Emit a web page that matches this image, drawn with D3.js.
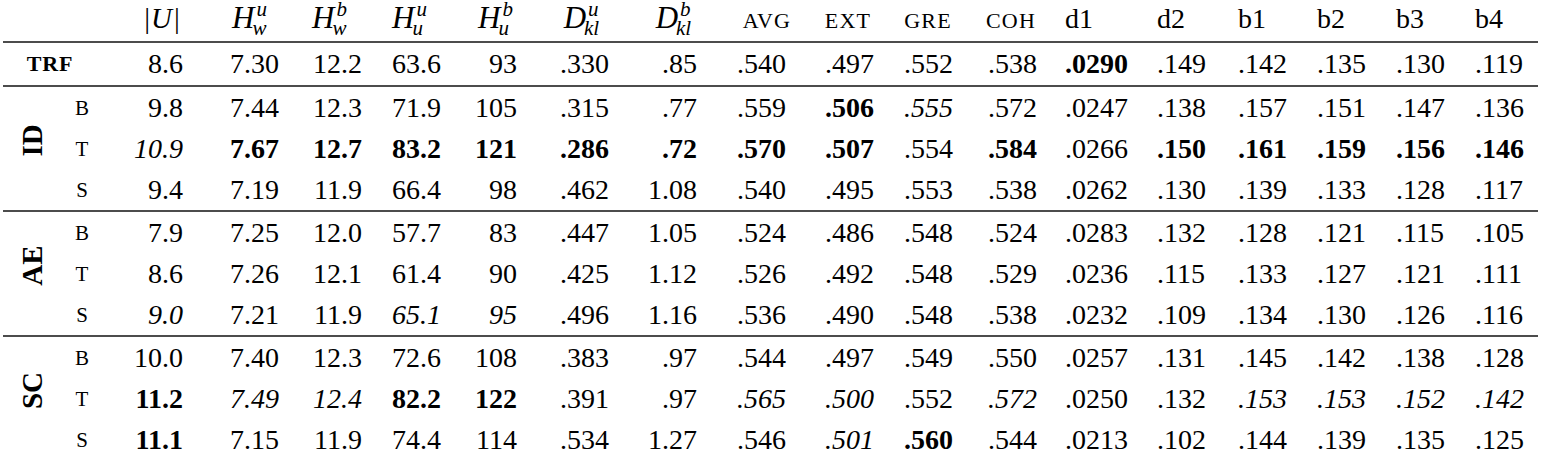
<!DOCTYPE html>
<html>
<head>
<meta charset="utf-8">
<script src="https://cdn.jsdelivr.net/npm/d3@7"></script>
<style>
  html, body { margin: 0; padding: 0; background: #fff; }
  svg { display: block; }
  svg text { font-family: 'Liberation Serif', 'Tinos', 'DejaVu Serif', serif; fill: #000; }
</style>
</head>
<body>
<svg width="1544" height="450"></svg>
<script>
// Column headers: base symbol, superscript, subscript
const headerBase = ['U', 'H', 'H', 'H', 'H', 'D', 'D', 'AVG', 'EXT', 'GRE', 'COH', 'd1', 'd2', 'b1', 'b2', 'b3', 'b4']
const headerSup  = ['', 'u', 'b', 'u', 'b', 'u', 'b', '', '', '', '', '', '', '', '', '', '']
const headerSub  = ['', 'w', 'w', 'u', 'u', 'kl', 'kl', '', '', '', '', '', '', '', '', '', '']
// decimals shown per column (leading zero dropped)
const decimals = [1, 2, 1, 1, 0, 3, 2, 3, 3, 3, 3, 4, 3, 3, 3, 3, 3]

const groups = ['ID', 'AE', 'SC']
const variants = ['B', 'T', 'S']

// values per row; style strings: '.' plain, 'b' bold, 'i' italic
const trf = [8.6, 7.30, 12.2, 63.6, 93, .330, .85, .540, .497, .552, .538, .0290, .149, .142, .135, .130, .119]
const trfStyle = '...........b.....'

const idB = [9.8, 7.44, 12.3, 71.9, 105, .315, .77, .559, .506, .555, .572, .0247, .138, .157, .151, .147, .136]
const idT = [10.9, 7.67, 12.7, 83.2, 121, .286, .72, .570, .507, .554, .584, .0266, .150, .161, .159, .156, .146]
const idS = [9.4, 7.19, 11.9, 66.4, 98, .462, 1.08, .540, .495, .553, .538, .0262, .130, .139, .133, .128, .117]
const idStyle = ['........bi.......', 'ibbbbbbbb.b.bbbbb', '.................']

const aeB = [7.9, 7.25, 12.0, 57.7, 83, .447, 1.05, .524, .486, .548, .524, .0283, .132, .128, .121, .115, .105]
const aeT = [8.6, 7.26, 12.1, 61.4, 90, .425, 1.12, .526, .492, .548, .529, .0236, .115, .133, .127, .121, .111]
const aeS = [9.0, 7.21, 11.9, 65.1, 95, .496, 1.16, .536, .490, .548, .538, .0232, .109, .134, .130, .126, .116]
const aeStyle = ['.................', '.................', 'i..ii............']

const scB = [10.0, 7.40, 12.3, 72.6, 108, .383, .97, .544, .497, .549, .550, .0257, .131, .145, .142, .138, .128]
const scT = [11.2, 7.49, 12.4, 82.2, 122, .391, .97, .565, .500, .552, .572, .0250, .132, .153, .153, .152, .142]
const scS = [11.1, 7.15, 11.9, 74.4, 114, .534, 1.27, .546, .501, .560, .544, .0213, .102, .144, .139, .135, .125]
const scStyle = ['.................', 'biibb..ii.i..iiii', 'b.......ib.......']

const tableValues = { ID: [idB, idT, idS], AE: [aeB, aeT, aeS], SC: [scB, scT, scS] }
const tableStyles = { ID: idStyle, AE: aeStyle, SC: scStyle }

const svg = d3.select('svg')
const FS = 28
const fmt = (v, d) => d3.format('.' + d + 'f')(v).replace(/^0\./, '.')

// layout: first eleven columns right aligned, the last six left aligned
const colIdx = d3.range(headerBase.length)
const x = d3.scaleOrdinal()
  .domain(colIdx)
  .range([183, 279, 362, 441, 517, 609, 697, 786, 874, 953, 1037, 1065, 1157, 1238, 1317, 1396, 1475])
const anchor = i => i < 11 ? 'end' : 'start'
// header centres for the right-aligned columns
const headerX = d3.scaleOrdinal()
  .domain(colIdx.slice(0, 11))
  .range([162, 249, 329, 409, 495, 581, 673, 767, 848, 928, 1011])

// rows
const yGroup = d3.scaleBand().domain(groups).range([86, 461])
const yRow = d3.scalePoint().domain(variants).range([22, 104])
const headerBaseline = 28
const trfY = 63.5

// rules
const rules = [42, 86].concat(groups.slice(1).map(g => yGroup(g)))
svg.selectAll('.rule')
  .data(rules)
  .enter()
  .append('line')
  .attr('class', 'rule')
  .attr('x1', 3).attr('x2', 1538)
  .attr('y1', d => d).attr('y2', d => d)
  .attr('stroke', '#111')
  .attr('stroke-width', 1.6)

// headers
colIdx.forEach(i => {
  const g = svg.append('g')
  if (i === 0) {
    const t = g.append('text').attr('font-size', 29)
    t.append('tspan').text('|')
    t.append('tspan').attr('font-style', 'italic').attr('dx', 1).text('U')
    t.append('tspan').attr('dx', 2).text('|')
  } else if (headerSup[i]) {
    const t = g.append('text').attr('font-size', 31).attr('font-style', 'italic').text(headerBase[i])
    const w = t.node().getComputedTextLength()
    g.append('text').attr('font-size', 21).attr('font-style', 'italic')
      .attr('x', w + 2).attr('y', -12).text(headerSup[i])
    g.append('text').attr('font-size', 21).attr('font-style', 'italic')
      .attr('x', w - 2).attr('y', 7).text(headerSub[i])
  } else if (i < 11) {
    g.append('text').attr('font-size', 22).attr('letter-spacing', 1.2).text(headerBase[i])
  } else {
    g.append('text').attr('font-size', FS).text(headerBase[i])
  }
  const bb = g.node().getBBox()
  const tx = i < 11 ? headerX(i) - (bb.x + bb.width / 2) : x(i) - bb.x
  g.attr('transform', 'translate(' + tx + ',' + headerBaseline + ')')
})

// row list built from the arrays
const rowList = [{ label: 'TRF', y: trfY, values: trf, style: trfStyle }]
groups.forEach(g => variants.forEach((v, k) => {
  rowList.push({ group: g, variant: v, y: yGroup(g) + yRow(v), values: tableValues[g][k], style: tableStyles[g][k] })
}))

const rowsG = svg.selectAll('.row')
  .data(rowList)
  .enter()
  .append('g')
  .attr('class', 'row')
  .attr('transform', d => 'translate(0,' + (d.y + 9.3) + ')')

rowsG.selectAll('.cell')
  .data(d => d.values.map((v, i) => ({ v, i, s: d.style[i] })))
  .enter()
  .append('text')
  .attr('class', 'cell')
  .attr('font-size', FS)
  .attr('x', d => x(d.i))
  .attr('text-anchor', d => anchor(d.i))
  .attr('font-weight', d => d.s === 'b' ? 'bold' : null)
  .attr('font-style', d => d.s === 'i' ? 'italic' : null)
  .text(d => fmt(d.v, decimals[d.i]))

// TRF label
svg.append('text')
  .attr('x', 50).attr('y', trfY + 7.5)
  .attr('text-anchor', 'middle')
  .attr('font-size', 22).attr('font-weight', 'bold').attr('letter-spacing', 0.8)
  .text('TRF')

// variant labels
rowsG.filter(d => d.variant)
  .append('text')
  .attr('x', 82).attr('y', -2.5)
  .attr('text-anchor', 'middle')
  .attr('font-size', 21)
  .text(d => d.variant)

// group labels, rotated
svg.selectAll('.grp')
  .data(groups)
  .enter()
  .append('text')
  .attr('class', 'grp')
  .attr('transform', g => 'translate(32,' + (yGroup(g) + yGroup.bandwidth() / 2 - 8) + ') rotate(-90)')
  .attr('y', 10)
  .attr('text-anchor', 'middle')
  .attr('font-size', 29).attr('font-weight', 'bold')
  .text(g => g)
</script>
</body>
</html>
